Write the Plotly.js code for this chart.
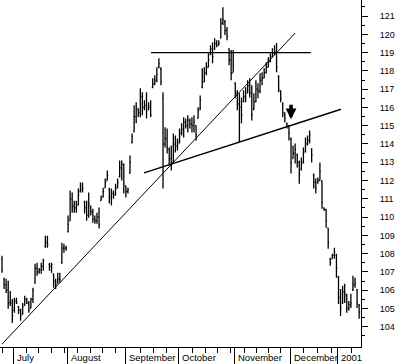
<!DOCTYPE html>
<html>
<head>
<meta charset="utf-8">
<script src="https://cdn.plot.ly/plotly-3.0.1.min.js"></script>
<style>html,body{margin:0;padding:0;background:#fff;}#chart{width:405px;height:364px;}</style>
</head>
<body>
<div id="chart"></div>
<script>
// Daily price bars (trading-day order)
const high = [107.88,106.68,106.62,106.51,105.96,105.52,105.58,105.58,105.14,104.98,105.30,105.69,105.58,105.41,105.58,106.13,107.44,107.50,107.22,107.50,107.72,108.98,108.98,107.50,107.50,106.90,106.62,106.95,106.95,108.60,108.54,108.43,
110.08,111.45,111.34,110.90,110.90,111.56,111.89,111.89,110.90,110.90,111.34,110.63,110.46,110.08,110.24,110.52,111.18,111.61,112.11,112.55,111.61,111.56,111.45,111.83,112.11,113.10,113.10,112.93,
111.72,111.61,113.37,114.58,116.12,116.28,115.95,117.05,116.83,116.39,116.83,116.28,116.39,117.60,117.76,118.20,118.69,118.20,116.83,114.91,114.85,113.81,113.92,114.58,114.47,114.30,
114.85,115.13,115.46,115.40,115.57,115.40,115.46,115.57,115.02,116.01,116.66,118.15,118.20,118.48,118.97,119.41,119.57,119.79,119.68,119.68,120.89,121.49,120.78,120.40,119.24,119.14,119.14,
117.38,116.94,116.77,116.55,116.94,117.10,117.49,117.60,117.21,116.77,117.49,117.32,117.87,117.93,118.15,118.48,118.75,118.97,119.24,119.41,119.52,117.76,116.94,116.28,115.73,115.18,115.02,
114.36,113.92,114.03,113.48,113.10,113.26,113.81,114.36,114.47,114.74,113.76,112.38,112.11,112.16,112.99,112.00,110.52,110.46,109.42,107.77,107.99,108.32,107.99,
106.79,106.07,106.24,106.35,105.80,105.41,105.80,106.79,106.68,106.07,105.25];
const low = [106.95,106.07,105.85,104.98,105.14,104.21,104.76,105.25,104.70,104.32,104.65,105.14,105.25,104.76,105.03,105.30,106.35,106.79,106.90,106.90,107.06,108.32,108.32,107.06,106.95,106.13,106.07,106.35,106.40,107.44,108.05,108.16,
109.15,109.80,110.24,110.24,110.24,110.63,111.34,111.34,110.19,109.80,109.97,110.08,109.69,109.64,109.64,109.37,110.90,111.07,111.61,112.00,110.74,110.63,111.01,111.18,111.56,112.16,112.00,111.29,
111.07,111.29,112.38,114.03,114.63,115.13,115.46,115.46,115.57,115.84,115.40,115.84,115.46,117.05,117.21,117.38,118.15,117.21,111.56,113.81,113.48,112.82,112.55,112.93,113.54,113.65,
114.03,114.47,114.36,114.85,114.63,114.85,114.63,114.63,114.19,115.40,115.84,117.05,117.38,117.76,118.20,118.86,118.42,119.14,119.30,119.41,119.79,120.51,119.96,119.68,118.31,117.49,117.93,
116.50,115.84,114.09,115.13,116.28,116.28,116.77,116.55,115.29,115.84,116.28,116.50,116.77,117.21,117.60,117.87,118.20,118.48,118.75,118.86,117.93,116.83,116.28,115.46,115.18,114.85,114.19,
112.38,113.21,112.93,112.71,111.83,112.55,112.93,113.54,113.92,114.03,112.99,111.56,111.29,111.83,112.00,110.46,110.35,109.42,108.27,107.34,107.72,107.72,106.68,
105.25,104.59,105.25,105.30,104.76,104.87,105.03,105.96,106.13,105.03,104.43];
const open = [107.7,106.6,106.3,106.0,105.3,105.3,104.9,105.4,105.1,104.9,104.7,105.2,105.5,105.3,105.0,105.5,106.4,107.2,107.0,107.1,107.3,108.4,108.6,107.4,107.3,106.9,106.5,106.4,106.6,107.5,108.3,108.3,
109.2,109.8,111.0,110.6,110.5,110.7,111.4,111.5,110.8,110.5,110.1,110.6,110.3,109.9,109.8,110.0,110.9,111.1,111.6,112.0,111.5,111.1,111.3,111.2,111.6,112.2,112.7,112.9,
111.7,111.4,112.4,114.1,114.7,115.5,115.9,115.7,116.6,116.0,116.1,115.9,116.0,117.1,117.3,117.5,118.2,118.1,116.5,114.0,114.3,113.7,113.2,113.0,114.0,113.9,
114.1,114.6,114.8,115.2,115.0,115.3,115.1,115.0,115.0,115.4,115.9,117.1,117.4,117.9,118.2,118.9,119.2,119.2,119.5,119.4,119.8,120.6,120.7,120.2,119.2,118.6,117.9,
117.3,116.8,116.2,116.0,116.3,116.6,116.8,117.2,116.8,115.9,116.3,117.0,116.9,117.5,117.6,117.9,118.2,118.5,118.8,119.0,119.1,117.7,116.9,116.2,115.7,115.1,115.0,
114.3,113.2,113.5,113.4,113.0,112.6,113.0,113.6,114.0,114.2,113.7,112.3,111.9,111.9,112.0,112.0,110.5,110.4,109.4,107.7,107.7,107.9,107.9,
106.7,105.6,105.3,105.9,105.7,105.0,105.2,106.0,106.3,106.0,105.2];
const close = [107.1,106.3,106.0,105.3,105.4,104.6,105.4,105.3,104.9,104.6,105.1,105.5,105.3,104.9,105.5,106.0,107.2,107.0,107.1,107.3,107.6,108.6,108.5,107.3,107.4,106.5,106.3,106.6,106.6,108.3,108.3,108.3,
109.6,111.0,110.6,110.5,110.6,111.2,111.5,111.6,110.5,110.1,110.7,110.3,109.9,109.8,110.0,109.6,111.0,111.4,111.9,112.3,111.1,111.3,111.2,111.6,111.9,112.7,112.9,111.8,
111.4,111.5,113.0,114.4,115.5,116.0,115.7,116.6,116.0,116.1,115.8,116.0,115.6,117.3,117.5,117.8,118.4,117.4,114.0,114.3,113.8,113.2,112.9,114.0,113.9,114.0,
114.6,114.8,115.2,115.0,115.3,115.1,115.0,115.2,114.5,115.8,116.4,117.4,117.9,118.2,118.6,119.2,118.8,119.5,119.4,119.5,120.6,120.8,120.2,119.9,118.6,117.9,118.3,
116.8,116.2,116.0,115.6,116.6,116.8,117.2,116.8,115.6,116.3,117.0,116.9,117.5,117.6,117.9,118.2,118.5,118.7,119.0,119.1,118.2,117.0,116.5,115.7,115.4,115.0,114.6,
113.0,113.5,113.7,113.0,112.3,112.9,113.5,114.0,114.2,114.5,113.4,111.9,111.6,112.0,112.5,110.8,110.4,109.8,108.6,107.5,107.9,108.1,107.2,
105.6,105.0,105.9,105.8,105.0,105.2,105.3,106.3,106.4,105.3,104.8];

// Axis labelling
const monthLabels = ["July","August","September","October","November","December","2001"];
const monthStarts = [5.7, 31.9, 60.0, 85.7, 112.8, 139.9, 162.7];
const weekTicks = [0.1, 12, 17.9, 24.1, 30.5, 36.8, 43, 48.9, 55.2, 67.3, 73.4, 79.7, 92.1, 98.4, 104.2, 110.5, 117.7, 123.4, 129, 134.7, 146, 152.9, 159.7, 169.4];
const priceTicks = [104,105,106,107,108,109,110,111,112,113,114,115,116,117,118,119,120,121];
const priceMinor = [103.5,104.5,105.5,106.5,107.5,108.5,109.5,110.5,111.5,112.5,113.5,114.5,115.5,116.5,117.5,118.5,119.5,120.5,121.5];

// Trend lines [x0, y0, x1, y1] in day / price units
const uptrend = [0, 103.05, 142.0, 120.07];
const resistance = [72.2, 119.0, 149.6, 119.0];
const neckline = [68.8, 112.42, 164.2, 115.90];
const arrowPoint = [140.0, 115.35];

const xIdx = high.map((_, i) => i);

const trace = {
  type: 'ohlc',
  x: xIdx, open: open, high: high, low: low, close: close,
  increasing: {line: {color: '#000', width: 1.3}},
  decreasing: {line: {color: '#000', width: 1.3}},
  tickwidth: 0.45,
  hoverinfo: 'skip',
  showlegend: false
};

const fontFam = '"Liberation Sans", Arial, sans-serif';

const annotations = monthLabels.map((t, i) => ({
  text: t, x: monthStarts[i], xref: 'x', y: -0.031, yref: 'paper',
  xanchor: 'left', yanchor: 'middle', xshift: 1, showarrow: false,
  font: {family: fontFam, size: 9.5, color: '#000'}
}));
annotations.push({
  x: arrowPoint[0], y: arrowPoint[1], xref: 'x', yref: 'y', text: '',
  showarrow: true, ax: 0, ay: -16, arrowhead: 2, arrowsize: 0.6, arrowwidth: 3.6, arrowcolor: '#000'
});

function seg(a, w) {
  return {type: 'line', xref: 'x', yref: 'y', x0: a[0], y0: a[1], x1: a[2], y1: a[3],
          line: {color: '#000', width: w}};
}

const layout = {
  width: 405, height: 364,
  margin: {l: 0, r: 44, t: 0, b: 17, pad: 0},
  paper_bgcolor: '#fff', plot_bgcolor: '#fff',
  showlegend: false,
  hovermode: false,
  xaxis: {
    range: [-0.97, 173.9], showgrid: false, zeroline: false,
    showline: true, linecolor: '#000', linewidth: 1,
    tickmode: 'array', tickvals: monthStarts, ticktext: monthLabels.map(() => ''),
    ticks: 'outside', ticklen: 17, tickwidth: 1, tickcolor: '#000',
    minor: {tickmode: 'array', tickvals: weekTicks, ticks: 'outside', ticklen: 5, tickwidth: 1, tickcolor: '#000'},
    rangeslider: {visible: false}, fixedrange: true
  },
  yaxis: {
    side: 'right', range: [102.89, 121.88], showgrid: false, zeroline: false,
    showline: true, linecolor: '#000', linewidth: 1,
    tickmode: 'array', tickvals: priceTicks, ticktext: priceTicks.map(String),
    ticks: 'outside', ticklen: 6, tickwidth: 1, tickcolor: '#000',
    minor: {tickmode: 'array', tickvals: priceMinor, ticks: 'outside', ticklen: 3, tickwidth: 1, tickcolor: '#000'},
    tickfont: {family: fontFam, size: 9, color: '#000'},
    ticklabelstandoff: 10,
    fixedrange: true
  },
  shapes: [seg(uptrend, 1), seg(resistance, 1.2), seg(neckline, 1.5)],
  annotations: annotations,
  font: {family: fontFam, color: '#000'}
};

Plotly.newPlot('chart', [trace], layout, {staticPlot: true, displayModeBar: false});
</script>
</body>
</html>
